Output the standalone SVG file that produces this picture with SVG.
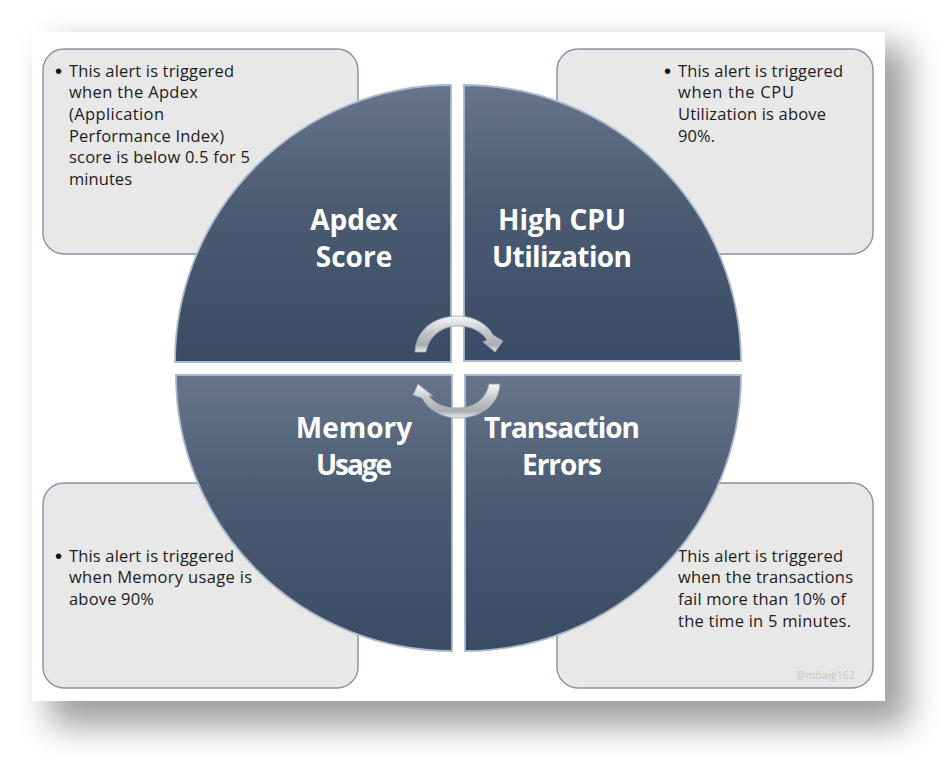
<svg xmlns="http://www.w3.org/2000/svg" width="950" height="766" viewBox="0 0 950 766">
<defs>
<linearGradient id="q" x1="0" y1="0" x2="0" y2="1"><stop offset="0" stop-color="#66758a"/><stop offset="0.45" stop-color="#4a5b72"/><stop offset="1" stop-color="#3a4c65"/></linearGradient>
<linearGradient id="a" x1="0" y1="0" x2="0" y2="1"><stop offset="0" stop-color="#f7f7f8"/><stop offset="0.45" stop-color="#c4c7cb"/><stop offset="0.8" stop-color="#a9adb2"/><stop offset="1" stop-color="#eeeff0"/></linearGradient>
<filter id="sh" x="-10%" y="-10%" width="125%" height="125%"><feGaussianBlur stdDeviation="17"/></filter>
<style>
.card{fill:#e8e8e8;stroke:#8593a6;stroke-width:1.4}
.quad{fill:url(#q);stroke:#a9b8ca;stroke-width:1.8}
.t{font-family:"Open Sans","Noto Sans",sans-serif;font-size:16.5px;fill:#1c1c1c}
.b{font-family:"Liberation Sans",sans-serif;font-size:20px;fill:#111}
.h{font-family:"Open Sans","Noto Sans",sans-serif;font-size:28px;font-weight:700;fill:#fff;text-anchor:middle}
.arrow{fill:url(#a);stroke:#9a9fa6;stroke-width:0.8}
</style>
</defs>
<rect width="950" height="766" fill="#fff"/>
<rect x="50" y="46" width="858" height="680" fill="#000" opacity="0.38" filter="url(#sh)"/>
<rect x="32" y="32" width="853" height="669" fill="#fff"/>
<g id="card-apdex"><rect class="card" x="43" y="49" width="315" height="205" rx="21"/>
<text class="b" x="55" y="78">•</text><text class="t"><tspan x="69" y="77" textLength="165">This alert is triggered</tspan><tspan x="69" y="98" textLength="129">when the Apdex</tspan><tspan x="69" y="120" textLength="95">(Application</tspan><tspan x="69" y="142" textLength="155">Performance Index)</tspan><tspan x="69" y="163" textLength="181">score is below 0.5 for 5</tspan><tspan x="69" y="185" textLength="63">minutes</tspan></text></g>
<g id="card-cpu"><rect class="card" x="557" y="49" width="316" height="205" rx="21"/>
<text class="b" x="664" y="78">•</text><text class="t"><tspan x="678" y="77" textLength="165">This alert is triggered</tspan><tspan x="678" y="98" textLength="116">when the CPU</tspan><tspan x="678" y="120" textLength="148">Utilization is above</tspan><tspan x="678" y="142" textLength="37">90%.</tspan></text></g>
<g id="card-memory"><rect class="card" x="43" y="483" width="315" height="205" rx="21"/>
<text class="b" x="55" y="563">•</text><text class="t"><tspan x="69" y="562" textLength="165">This alert is triggered</tspan><tspan x="69" y="583" textLength="183">when Memory usage is</tspan><tspan x="69" y="605" textLength="85">above 90%</tspan></text></g>
<g id="card-transaction"><rect class="card" x="557" y="483" width="316" height="205" rx="21"/>
<text class="t"><tspan x="678" y="562" textLength="165">This alert is triggered</tspan><tspan x="678" y="583" textLength="175">when the transactions</tspan><tspan x="678" y="605" textLength="168">fail more than 10% of</tspan><tspan x="678" y="627" textLength="173">the time in 5 minutes.</tspan></text>
<text x="796" y="679" font-family="Open Sans,Noto Sans,sans-serif" font-size="10.5" fill="#c4c4c4" textLength="59">@mbaig162</text></g>
<g id="quad-apdex"><path class="quad" d="M451 362V85A277 277 0 0 0 175 362Z"/><text class="h" x="354" y="230">Apdex</text><text class="h" x="354" y="267">Score</text></g>
<g id="quad-cpu"><path class="quad" d="M464 361V85A277 277 0 0 1 741 361Z"/><text class="h" x="562" y="230">High CPU</text><text class="h" x="562" y="267" textLength="140">Utilization</text></g>
<g id="quad-memory"><path class="quad" d="M452 375V651A276 276 0 0 1 176 375Z"/><text class="h" x="354" y="438">Memory</text><text class="h" x="354" y="475" textLength="76">Usage</text></g>
<g id="quad-transaction"><path class="quad" d="M465 375H741A276 276 0 0 1 465 651Z"/><text class="h" x="562" y="438" textLength="156">Transaction</text><text class="h" x="562" y="475" textLength="80">Errors</text></g>
<g id="connectors">
<path class="arrow" d="M415 352C416 330 434 316 458 316C475 316 488 325 493 335L503 341L495 352L483 342L487 340C482 332 472 326 458 326C442 326 429 336 426 352Z"/>
<path class="arrow" d="M500 384C499 404 482 418 458 418C442 418 428 410 422 398L413 395L418 384L433 396L429 396C435 404 445 408 458 408C474 408 486 399 489 384Z"/>
</g>
</svg>
